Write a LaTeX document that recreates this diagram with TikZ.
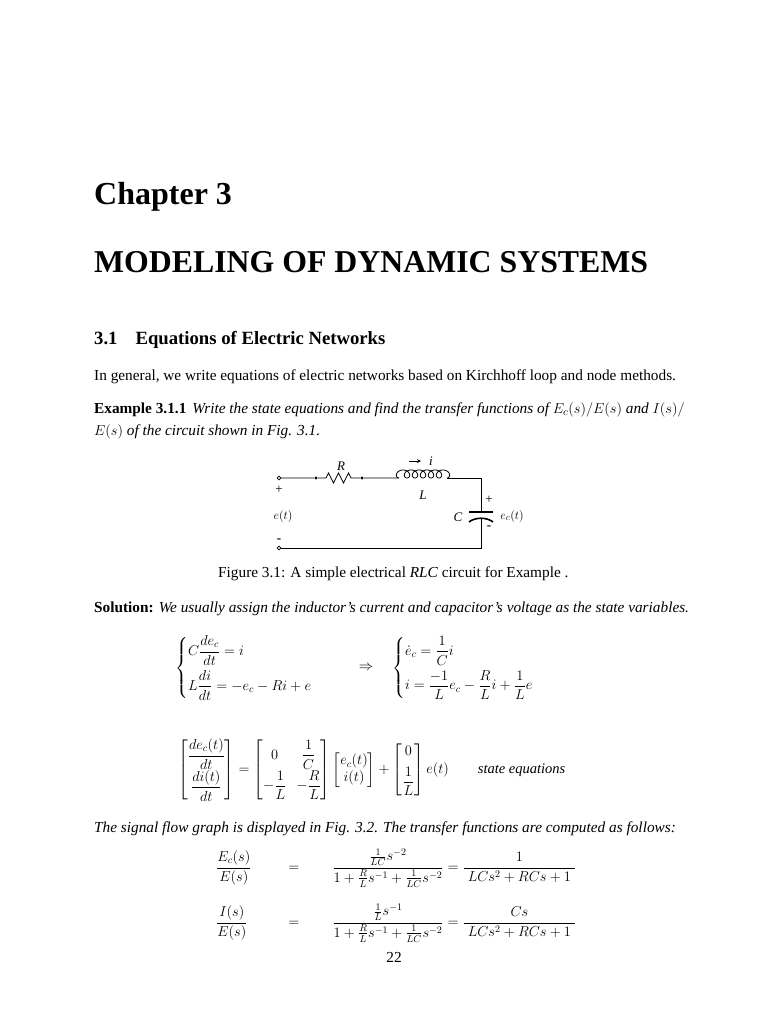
\documentclass[tikz,border=0pt]{standalone}
\usepackage{amsmath}
\usepackage{fontspec}
\setmainfont{Liberation Serif}
\begin{document}
\begin{tikzpicture}[x=1pt,y=-1pt,
  txt/.style={inner sep=0pt,anchor=base west,font=\fontsize{15.3}{18}\selectfont},
  eq/.style={inner sep=0pt,font=\fontsize{14.5}{17}\selectfont},
  wire/.style={line width=0.8pt},
  lbl/.style={inner sep=0pt,font=\fontsize{13}{15}\selectfont}]
\useasboundingbox (0,0) rectangle (768,1024);
\fill[white] (0,0) rectangle (768,1024);
\node[txt,font=\bfseries\fontsize{32}{36}\selectfont] (ch) at (94,205) {Chapter 3};
\node[txt,font=\bfseries\fontsize{31.8}{36}\selectfont] (title) at (94,272) {MODELING OF DYNAMIC SYSTEMS};
\node[txt,font=\bfseries\fontsize{18.7}{22}\selectfont] (sec) at (94,344) {3.1\hspace{18pt}Equations of Electric Networks};
\node[txt] (p1) at (94,380) {In general, we write equations of electric networks based on Kirchhoff loop and node methods.};
\node[txt] (ex1) at (94,413) {\textbf{Example 3.1.1}\hspace{6pt}\textit{Write the state equations and find the transfer functions of $E_c(s)/E(s)$ and $I(s)/$}};
\node[txt] (ex2) at (94,435) {\textit{$E(s)$ of the circuit shown in Fig. 3.1.}};
% circuit
\node[circle,draw,inner sep=1.3pt,wire] (t1) at (279,478) {};
\node[circle,draw,inner sep=1.3pt,wire] (t2) at (279,548) {};
\node[circle,fill,inner sep=1.2pt] (r1) at (316,478) {};
\node[circle,fill,inner sep=1.2pt] (r2) at (362,478) {};
\coordinate (l1) at (399,478);
\coordinate (l2) at (447,478);
\coordinate (tr) at (481,478);
\coordinate (c1) at (481,512);
\coordinate (c2) at (481,519);
\coordinate (br) at (481,548);
\draw[wire] (t1) -- (r1) -- (326,478) -- (328.5,473) -- (333.5,483) -- (338.5,473) -- (343.5,483) -- (348.5,473) -- (351,478) -- (r2) -- (l1);
\draw[wire] plot[domain=0:2160,samples=300,smooth] ({399+0.02222*\x-4.5*sin(\x)},{478-4*(1-cos(\x))});
\draw[wire] (l2) -- (tr) -- (c1);
\draw[line width=1.6pt] (469,512) -- (493,512);
\draw[line width=1.6pt] (469,522) .. controls (475,517) and (487,517) .. (493,522);
\draw[wire] (c2) -- (br) -- (t2);
\draw[-stealth,wire] (409,461) -- (421,461);
\node[lbl] (lR) at (341,466) {\textit{R}};
\node[lbl] (li) at (431,461) {\textit{i}};
\node[lbl] (lL) at (423,495) {\textit{L}};
\node[lbl] (lp) at (279,490) {+};
\node[lbl] (le) at (283,516) {$e(t)$};
\node[lbl] (lm) at (279,541) {\textbf{-}};
\node[lbl] (lC) at (458,517) {\textit{C}};
\node[lbl] (lec) at (512,516) {$e_c(t)$};
\node[lbl] (lcp) at (489,500) {+};
\node[lbl] (lcm) at (489,528) {\textbf{-}};
\node[txt] (cap) at (218,577) {Figure 3.1: A simple electrical \textit{RLC} circuit for Example .};
\node[txt] (sol) at (94,612) {\textbf{Solution:} \textit{We usually assign the inductor's current and capacitor's voltage as the state variables.}};
\node[eq,anchor=west] (sys1) at (175,668) {$\begin{cases} C\dfrac{de_c}{dt}=i\\[9pt] L\dfrac{di}{dt}=-e_c-Ri+e\end{cases}$};
\node[eq] (imp) at (366,668) {$\Rightarrow$};
\node[eq,anchor=west] (sys2) at (392,668) {$\begin{cases} \dot e_c=\dfrac{1}{C}i\\[9pt] i=\dfrac{-1}{L}e_c-\dfrac{R}{L}i+\dfrac{1}{L}e\end{cases}$};
\node[eq,anchor=west] (mat) at (178,770) {$\begin{bmatrix}\dfrac{de_c(t)}{dt}\\[6pt]\dfrac{di(t)}{dt}\end{bmatrix}=\begin{bmatrix}0&\dfrac{1}{C}\\[6pt]-\dfrac{1}{L}&-\dfrac{R}{L}\end{bmatrix}\begin{bmatrix}e_c(t)\\ i(t)\end{bmatrix}+\begin{bmatrix}0\\[6pt]\dfrac{1}{L}\end{bmatrix}e(t)\qquad\textit{state equations}$};
\node[txt] (sfg) at (94,832) {\textit{The signal flow graph is displayed in Fig. 3.2. The transfer functions are computed as follows:}};
\node[eq,anchor=west] (tf1) at (216,868) {$\dfrac{E_c(s)}{E(s)}\qquad\;=\qquad\dfrac{\frac{1}{LC}s^{-2}}{1+\frac{R}{L}s^{-1}+\frac{1}{LC}s^{-2}}=\dfrac{1}{\;LCs^2+RCs+1\;}$};
\node[eq,anchor=west] (tf2) at (216,923) {$\dfrac{I(s)}{E(s)}\qquad\;\;=\qquad\dfrac{\frac{1}{L}s^{-1}}{1+\frac{R}{L}s^{-1}+\frac{1}{LC}s^{-2}}=\dfrac{Cs}{\;LCs^2+RCs+1\;}$};
\node[txt,anchor=base] (pg) at (394,962) {22};
\end{tikzpicture}
\end{document}
